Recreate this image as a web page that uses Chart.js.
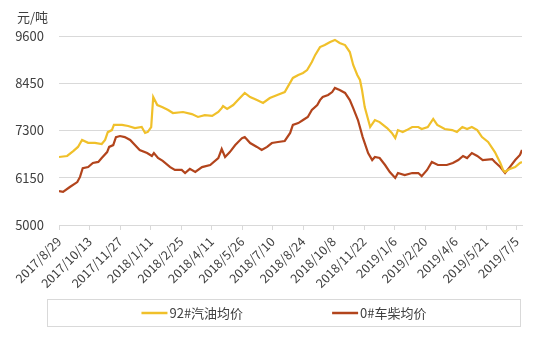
<!DOCTYPE html>
<html>
<head>
<meta charset="utf-8">
<script src="https://cdn.jsdelivr.net/npm/chart.js@4/dist/chart.umd.min.js"></script>
<style>
  html, body { margin: 0; padding: 0; background: #fff; }
  #wrap { width: 554px; height: 338px; position: relative; }
</style>
</head>
<body>
<div id="wrap"><canvas id="fuel-price-chart"></canvas></div>
<script>
// x positions are days counted from 2017/8/29, ticks every 45 days
const tickLabels = ['2017/8/29', '2017/10/13', '2017/11/27', '2018/1/11', '2018/2/25', '2018/4/11',
  '2018/5/26', '2018/7/10', '2018/8/24', '2018/10/8', '2018/11/22', '2019/1/6', '2019/2/20',
  '2019/4/6', '2019/5/21', '2019/7/5'];
const tickStep = 45;
const lastDay = 683;

const unitLabel = '元/吨';
const seriesNames = ['92#汽油均价', '0#车柴均价'];

const gasDays = [0, 12, 21, 28, 34, 43, 53, 63, 68, 72, 78, 81, 93, 102, 112, 122, 127, 131, 136, 139,
  145, 152, 161, 168, 183, 196, 205, 215, 226, 235, 240, 242, 248, 257, 264, 274, 282, 292, 301, 311,
  322, 333, 345, 353, 360, 366, 373, 378, 385, 392, 400, 407, 414, 422, 429, 434, 440, 444, 447, 451,
  459, 466, 473, 484, 491, 496, 500, 507, 513, 521, 530, 535, 544, 552, 558, 569, 580, 587, 595, 602,
  609, 617, 624, 633, 643, 651, 655, 658, 665, 673, 680, 683];
const gasPrice = [6655, 6680, 6800, 6900, 7070, 7000, 7000, 6970, 7070, 7260, 7310, 7435, 7435, 7410, 7360, 7385, 7240, 7265, 7385, 8115,
  7920, 7870, 7800, 7725, 7750, 7700, 7630, 7675, 7655, 7750, 7845, 7895, 7825, 7920, 8040, 8215, 8115, 8040, 7970, 8090,
  8165, 8235, 8580, 8650, 8700, 8770, 8965, 9140, 9330, 9380, 9455, 9505, 9430, 9380, 9210, 8895, 8650, 8530, 8285, 7870,
  7385, 7555, 7505, 7360, 7240, 7115, 7310, 7265, 7310, 7385, 7385, 7335, 7385, 7580, 7435, 7335, 7310, 7265, 7385, 7335,
  7385, 7310, 7140, 7020, 6775, 6510, 6340, 6290, 6365, 6410, 6510, 6535];

const dieselDays = [0, 6, 16, 27, 31, 35, 43, 50, 58, 63, 71, 74, 80, 84, 90, 97, 105, 112, 119, 130,
  137, 140, 146, 153, 164, 171, 181, 186, 193, 201, 211, 223, 235, 240, 245, 252, 260, 270, 274, 282,
  292, 299, 307, 314, 323, 333, 341, 345, 353, 360, 367, 373, 381, 385, 389, 397, 403, 407, 414, 422,
  429, 434, 441, 448, 456, 462, 466, 473, 481, 488, 496, 500, 510, 521, 530, 535, 543, 550, 559, 572,
  581, 589, 596, 602, 609, 617, 625, 639, 643, 651, 658, 665, 673, 680, 683];
const dieselPrice = [5825, 5805, 5925, 6045, 6170, 6385, 6410, 6510, 6535, 6630, 6775, 6900, 6945, 7140, 7165, 7140, 7070, 6945, 6825, 6750,
  6680, 6750, 6630, 6560, 6410, 6340, 6340, 6265, 6365, 6290, 6410, 6460, 6630, 6850, 6655, 6775, 6945, 7115, 7140, 6995,
  6900, 6825, 6900, 6995, 7020, 7045, 7240, 7435, 7480, 7555, 7630, 7800, 7920, 8040, 8115, 8165, 8235, 8335, 8285, 8215,
  8040, 7845, 7555, 7140, 6750, 6580, 6655, 6630, 6460, 6290, 6145, 6265, 6215, 6265, 6265, 6190, 6340, 6535, 6460, 6460,
  6510, 6580, 6680, 6630, 6750, 6680, 6580, 6605, 6535, 6410, 6265, 6410, 6580, 6705, 6825];

const FONT_FAMILY = '"Noto Sans CJK SC", "Noto Sans", sans-serif';
const TEXT_COLOR = '#404040';
const GRID_COLOR = '#d9d9d9';
const GAS_COLOR = '#f0c02a';
const DIESEL_COLOR = '#b2441c';

const toPoints = (days, values) => days.map((d, i) => ({ x: d, y: values[i] }));

// unit label in the corner and a boxed legend under the axis
const frameParts = {
  id: 'frameParts',
  afterDraw(chart) {
    const ctx = chart.ctx;
    ctx.save();
    ctx.font = '13px ' + FONT_FAMILY;
    ctx.fillStyle = TEXT_COLOR;
    ctx.textBaseline = 'middle';
    ctx.textAlign = 'left';
    ctx.fillText(unitLabel, 17, 17);

    const box = { left: 47.5, top: 299.5, width: 473, height: 27 };
    ctx.strokeStyle = GRID_COLOR;
    ctx.lineWidth = 1;
    ctx.strokeRect(box.left, box.top, box.width, box.height);

    const lineLen = 26, lineGap = 2, itemGap = 89;
    const items = chart.data.datasets.map(ds => ({
      label: ds.label, color: ds.borderColor,
      width: lineLen + lineGap + ctx.measureText(ds.label).width
    }));
    const total = items.reduce((s, it) => s + it.width, 0) + itemGap * (items.length - 1);
    let x = box.left + (box.width - total) / 2;
    const y = box.top + box.height / 2;
    items.forEach(it => {
      ctx.strokeStyle = it.color;
      ctx.lineWidth = 2.5;
      ctx.beginPath();
      ctx.moveTo(x, y);
      ctx.lineTo(x + lineLen, y);
      ctx.stroke();
      ctx.fillStyle = TEXT_COLOR;
      ctx.fillText(it.label, x + lineLen + lineGap, y);
      x += it.width + itemGap;
    });
    ctx.restore();
  }
};

const ctxFuel = document.getElementById('fuel-price-chart').getContext('2d');
const fuelChart = new Chart(ctxFuel, {
  type: 'line',
  data: {
    datasets: [
      { label: seriesNames[0], data: toPoints(gasDays, gasPrice), borderColor: GAS_COLOR, borderWidth: 2.2 },
      { label: seriesNames[1], data: toPoints(dieselDays, dieselPrice), borderColor: DIESEL_COLOR, borderWidth: 2.2 },
    ],
  },
  options: {
    responsive: true,
    maintainAspectRatio: false,
    animation: false,
    layout: { padding: { top: 36, right: 32, left: 0, bottom: 0 } },
    elements: { point: { radius: 0 }, line: { tension: 0 } },
    plugins: {
      legend: { display: false },
      tooltip: { enabled: false },
    },
    scales: {
      x: {
        type: 'linear',
        min: 0,
        max: lastDay,
        afterBuildTicks: axis => {
          axis.ticks = tickLabels.map((_, i) => ({ value: i * tickStep }));
        },
        afterFit: axis => { axis.height = 113; },
        ticks: {
          autoSkip: false,
          minRotation: 45,
          maxRotation: 45,
          padding: 4,
          color: TEXT_COLOR,
          font: { family: FONT_FAMILY, size: 12.5 },
          callback: (value, index) => tickLabels[index],
        },
        grid: { drawOnChartArea: false, drawTicks: true, tickLength: 5, color: GRID_COLOR },
        border: { display: true, color: GRID_COLOR },
      },
      y: {
        min: 5000,
        max: 9600,
        afterFit: axis => { axis.width = 59; },
        ticks: {
          stepSize: 1150,
          padding: 15,
          color: TEXT_COLOR,
          font: { family: FONT_FAMILY, size: 13 },
          callback: value => String(value),
        },
        grid: { color: GRID_COLOR, drawTicks: false },
        border: { display: false },
      },
    },
  },
  plugins: [frameParts],
});
</script>
</body>
</html>
